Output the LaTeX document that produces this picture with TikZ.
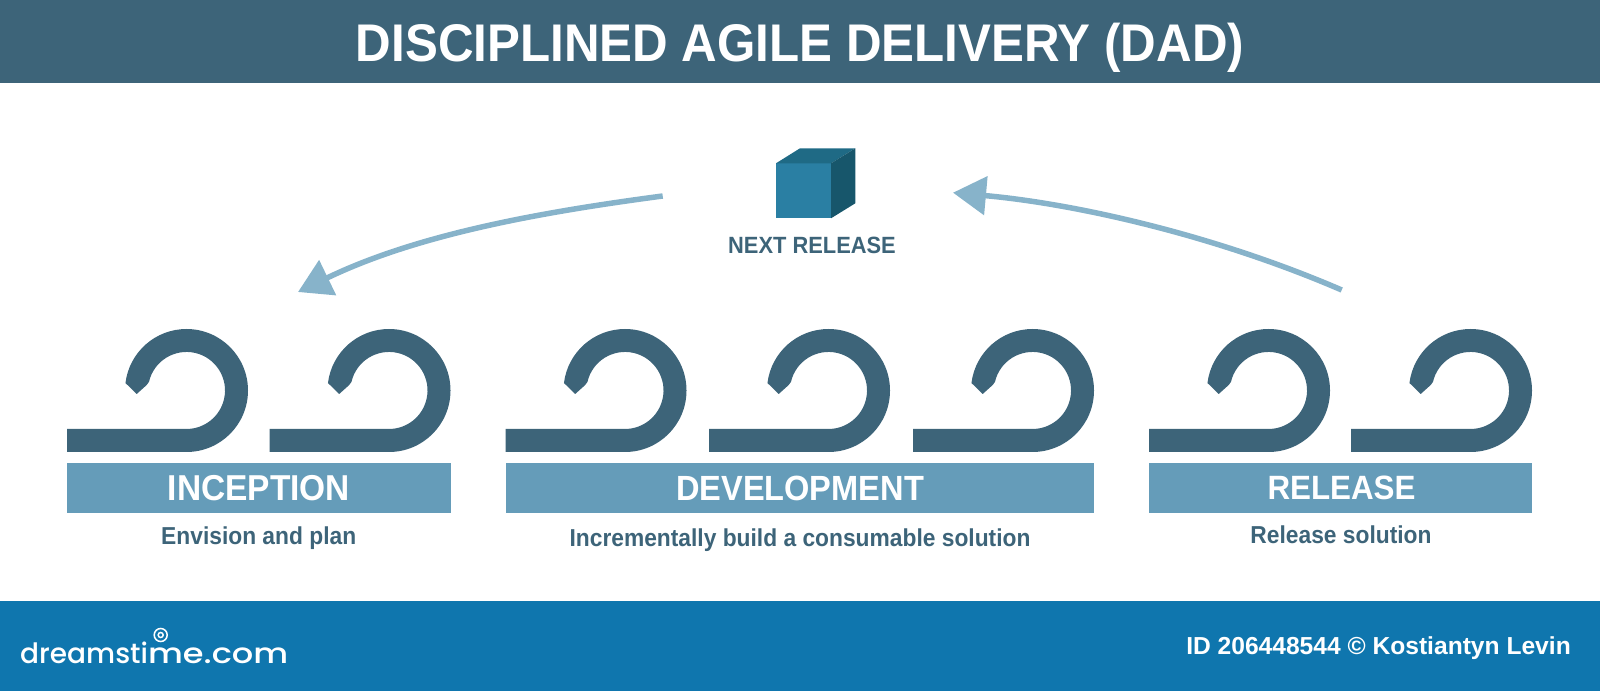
\documentclass[tikz,border=0pt]{standalone}
\usepackage{fontspec}
\setmainfont{Liberation Sans}[FakeStretch=0.93]
\newfontfamily\creditfont{Liberation Sans}
\newfontfamily\logofont{Poppins Medium}
\newfontfamily\logowidefont{Poppins Medium}[FakeStretch=1.2]
\usetikzlibrary{arrows.meta}

\definecolor{bandblue}{HTML}{3D6479}
\definecolor{footblue}{HTML}{0F76AE}
\definecolor{barblue}{HTML}{659CB9}
\definecolor{arrowblue}{HTML}{87B3CA}
\definecolor{cubefront}{HTML}{2A7FA3}
\definecolor{cubetop}{HTML}{1F6A85}
\definecolor{cubeside}{HTML}{17566B}

\tikzset{
  phasebar/.style={fill=barblue, text=white, minimum height=50pt, inner sep=0pt, font=\fontsize{36}{36}\selectfont\bfseries},
  phasenote/.style={text=bandblue, anchor=base, inner sep=0pt, font=\fontsize{24.5}{24.5}\selectfont\bfseries},
  flowarrow/.style={draw=arrowblue, line width=5.5pt, -{Triangle[length=33pt,width=38pt]}},
  whitetext/.style={text=white, inner sep=0pt}
}

\begin{document}
\begin{tikzpicture}[x=1pt, y=1pt]
\useasboundingbox (0,0) rectangle (1600,691);

\fill [bandblue] (0,608) rectangle (1600,691);
\fill [footblue] (0,0) rectangle (1600,90);
\node (title) [whitetext, anchor=base, font=\fontsize{53}{53}\selectfont\bfseries] at (800,629.3) {DISCIPLINED AGILE DELIVERY (DAD)};

% cube
\fill [cubefront] (776,472.7) rectangle (831,527.7);
\fill [cubetop] (776,527.7) -- (800,542.7) -- (855.3,542.7) -- (831,527.7) -- cycle;
\fill [cubeside] (831,472.7) -- (855.3,487.7) -- (855.3,542.7) -- (831,527.7) -- cycle;
\node (next) [phasenote, font=\fontsize{23.5}{23.5}\selectfont\bfseries] at (812,437.7) {NEXT RELEASE};

\coordinate (leftstart) at (662.7,495);
\coordinate (lefttip) at (298,399);
\coordinate (rightstart) at (1341.7,401);
\coordinate (righttip) at (953,498.3);
\draw [flowarrow] (leftstart) .. controls (542,479) and (418,457) .. (lefttip);
\draw [flowarrow] (rightstart) .. controls (1216.7,455) and (1078,487) .. (righttip);

% loops
\foreach \cx in {186.5,389,625,828.5,1032.5,1268.5,1470.5} {
  \fill [bandblue, shift={(\cx,300.5)}] (-119.5,-61.5) -- (0,-61.5)
    arc[start angle=-90, end angle=173, radius=61.5]
    -- (-49.8,-3.5) -- (-39.8,5.5) -- (-37.5,8.7)
    arc[start angle=167, end angle=-90, radius=38.5]
    -- (-119.5,-38.5) -- cycle;
}

\node (inception) [phasebar, minimum width=383.7pt] at (259,202.7) {INCEPTION};
\node (development) [phasebar, minimum width=588pt, font=\fontsize{35}{35}\selectfont\bfseries] at (800,202.7) {DEVELOPMENT};
\node (release) [phasebar, minimum width=383pt, font=\fontsize{33.7}{34}\selectfont\bfseries] at (1340.5,202.7) {\hspace{2pt}RELEASE};

\node (envision) [phasenote] at (258.7,146.7) {Envision and plan};
\node (build) [phasenote] at (800,144.3) {Incrementally build a consumable solution};
\node (solution) [phasenote] at (1341,147.5) {Release solution};

\node (logo) [whitetext, anchor=base west, font=\fontsize{28}{28}\logofont] at (20,27.7) {dreamsti{\logowidefont me.com}};
\draw [white, line width=1.5pt] (160.7,56) circle (6.5pt);
\draw [white, line width=1.5pt] (160.7,56) circle (2.5pt);
\node (credit) [whitetext, anchor=base east, font=\fontsize{24.6}{25}\creditfont\bfseries] at (1571,37) {ID 206448544 © Kostiantyn Levin};
\end{tikzpicture}
\end{document}
